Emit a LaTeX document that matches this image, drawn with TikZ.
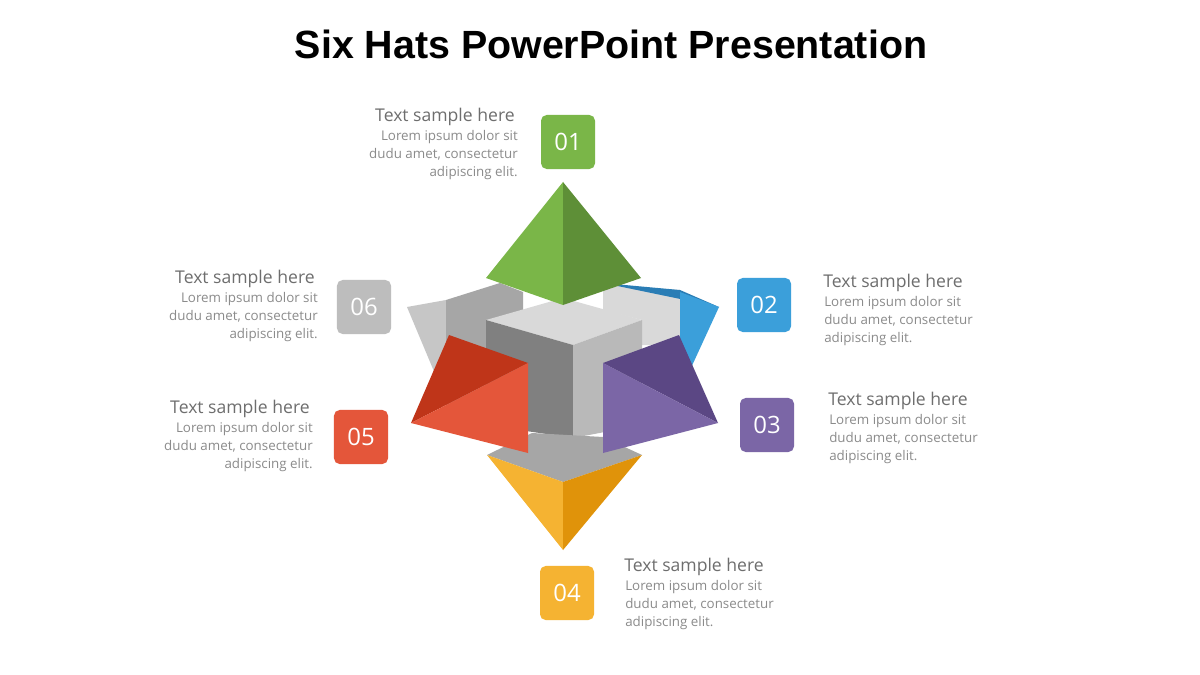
\documentclass[tikz,border=0pt]{standalone}
\usepackage{fontspec}
\setmainfont{Open Sans}
\newfontfamily\titlefont{Liberation Sans}
\usetikzlibrary{positioning}
\definecolor{hatgreen}{HTML}{7AB648}
\definecolor{hatgreendk}{HTML}{5E8F37}
\definecolor{hatblue}{HTML}{3B9FDA}
\definecolor{hatbluedk}{HTML}{2A7DB5}
\definecolor{hatpurple}{HTML}{7B66A6}
\definecolor{hatpurpledk}{HTML}{5B4784}
\definecolor{hatyellow}{HTML}{F5B332}
\definecolor{hatyellowdk}{HTML}{E0930A}
\definecolor{hatred}{HTML}{E4563A}
\definecolor{hatreddk}{HTML}{BF3519}
\definecolor{hatgray}{HTML}{BDBDBD}
\definecolor{txtgray}{HTML}{6E6E6E}
\tikzset{
  badge/.style={rounded corners=4pt, minimum size=1.35cm, text=white, font=\fontsize{17}{17}\selectfont},
  headline/.style={text=txtgray, font=\fontsize{12.5}{14}\selectfont, inner sep=0pt},
  bodyline/.style={text=txtgray!80, font=\fontsize{9.5}{12.7}\selectfont, inner sep=0pt}
}
\begin{document}
\begin{tikzpicture}[x=0.025cm,y=-0.025cm]
\useasboundingbox (0,0) rectangle (1200,675);
\fill[white] (0,0) rectangle (1200,675);
% title
\node[font=\titlefont\bfseries\fontsize{28}{30}\selectfont] (title) at (611,44) {Six Hats PowerPoint Presentation};

% back gray slabs
\fill[gray!45] (407,307) -- (446,300) -- (446,400) -- cycle;
\fill[gray!70] (446,300) -- (500,283) -- (523,292) -- (523,320) -- (486,320) -- (486,430) -- (446,420) -- cycle;
\fill[gray!30] (603,285) -- (680,290) -- (680,345) -- (642,345) -- (642,320) -- (603,310) -- cycle;
\fill[hatbluedk] (603,283) -- (719,307) -- (680,290) -- cycle;
\fill[hatblue] (680,292) -- (719,307) -- (690,370) -- (680,365) -- cycle;

% cube
\fill[gray!30] (486,320) -- (563,298) -- (642,320) -- (573,345) -- cycle;
\fill[gray!100] (486,320) -- (573,345) -- (573,438) -- (486,425) -- cycle;
\fill[gray!55] (573,345) -- (642,320) -- (642,425) -- (573,438) -- cycle;

% bottom platform and yellow pyramid
\fill[gray!70] (487,455) -- (532,433) -- (603,437) -- (642,455) -- (563,482) -- cycle;
\fill[hatyellow] (487,455) -- (563,482) -- (563,550) -- cycle;
\fill[hatyellowdk] (642,455) -- (563,482) -- (563,550) -- cycle;

% red and purple
\fill[hatreddk] (411,423) -- (449,335) -- (528,363) -- cycle;
\fill[hatred] (411,423) -- (528,363) -- (528,453) -- cycle;
\fill[hatpurpledk] (718,423) -- (679,335) -- (603,363) -- cycle;
\fill[hatpurple] (718,423) -- (603,363) -- (603,453) -- cycle;

% green pyramid
\fill[hatgreen] (486,278) -- (563,182) -- (563,305) -- cycle;
\fill[hatgreendk] (641,278) -- (563,182) -- (563,305) -- cycle;

% badges
\node[badge, fill=hatgreen] (b1) at (568,142) {01};
\node[badge, fill=hatblue] (b2) at (764,305) {02};
\node[badge, fill=hatpurple] (b3) at (767,425) {03};
\node[badge, fill=hatyellow] (b4) at (567,593) {04};
\node[badge, fill=hatred] (b5) at (361,437) {05};
\node[badge, fill=hatgray] (b6) at (364,307) {06};

% texts right aligned
\foreach \n/\x/\y in {t1/518/117, t6/318/279, t5/313/409}{
  \node[headline, anchor=east] (\n h) at (\x-3,\y) {Text sample here};
  \node[bodyline, anchor=north east, align=right] (\n b) at (\x,\y+13) {Lorem ipsum dolor sit\\dudu amet, consectetur\\adipiscing elit.};
}
% texts left aligned
\foreach \n/\x/\y in {t2/823/283, t3/828/401, t4/624/567}{
  \node[headline, anchor=west] (\n h) at (\x,\y) {Text sample here};
  \node[bodyline, anchor=north west, align=left] (\n b) at (\x+1,\y+13) {Lorem ipsum dolor sit\\dudu amet, consectetur\\adipiscing elit.};
}
\end{tikzpicture}
\end{document}
